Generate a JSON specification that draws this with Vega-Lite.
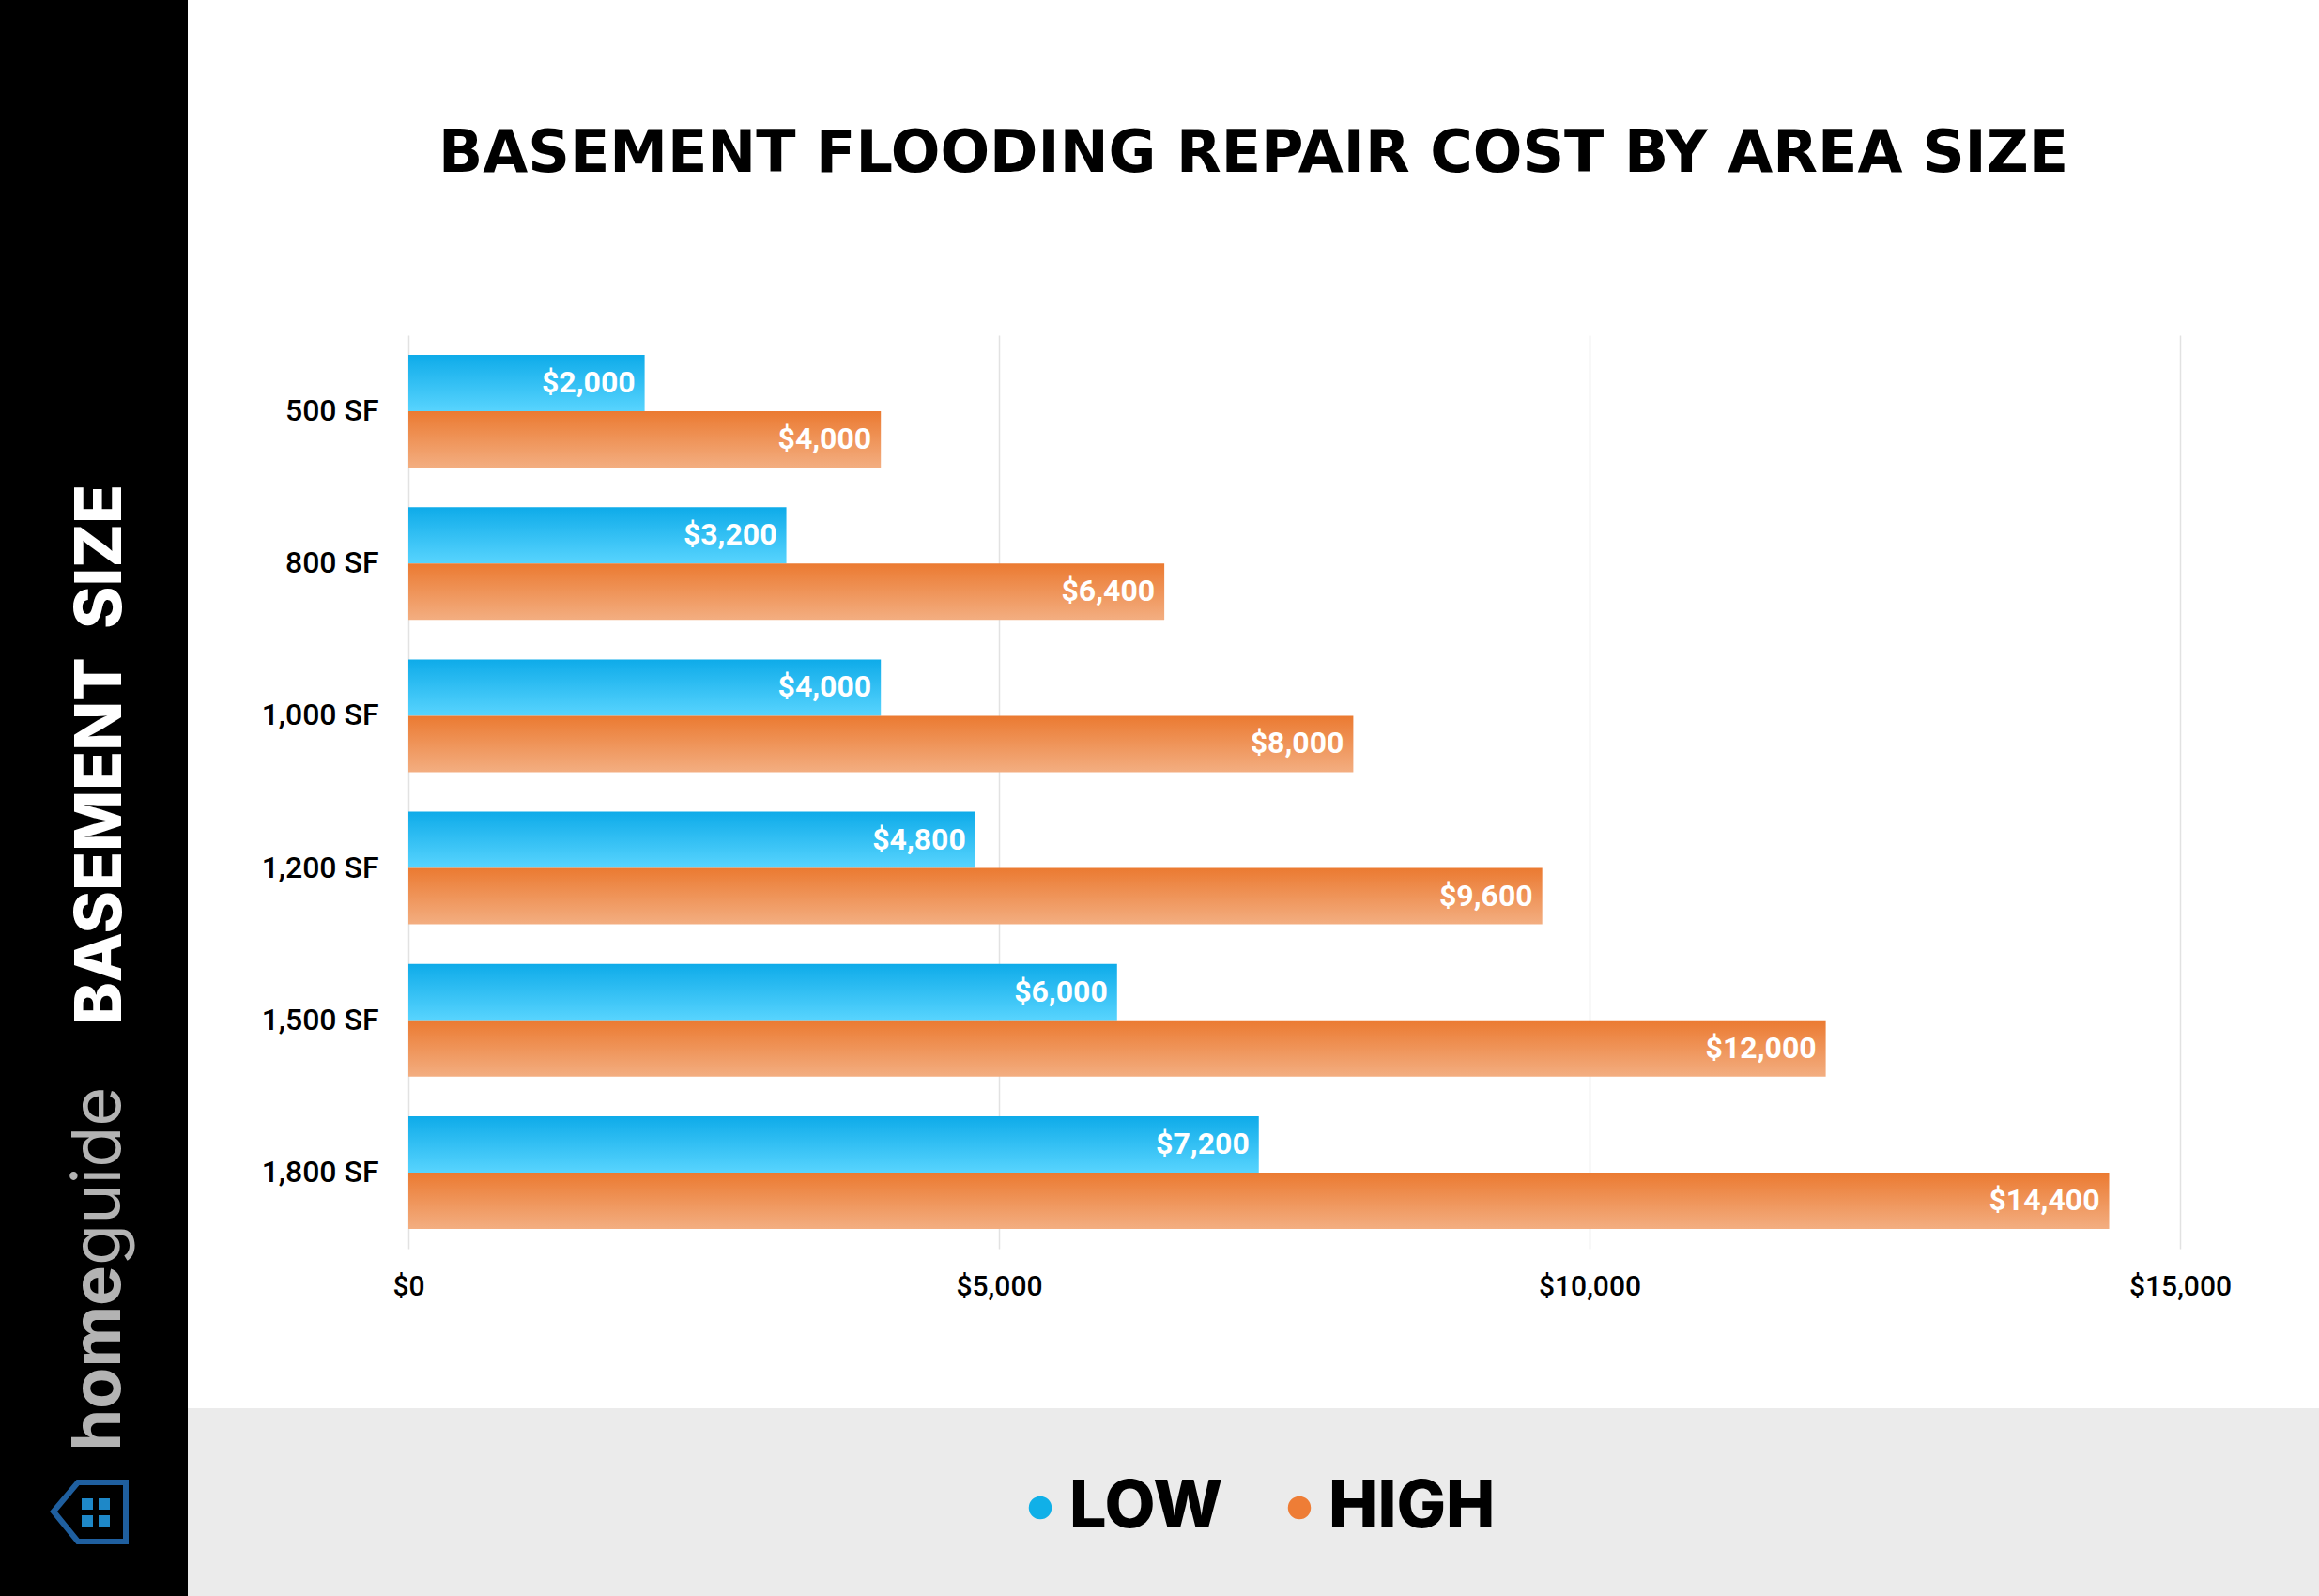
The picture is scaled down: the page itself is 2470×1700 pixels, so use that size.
{
  "$schema": "https://vega.github.io/schema/vega-lite/v6.json",
  "background": "white",
  "padding": 0,
  "spacing": 0,
  "bounds": "flush",
  "datasets": {
    "costs": [
      {"size": "500 SF", "series": "LOW", "cost": 2000},
      {"size": "500 SF", "series": "HIGH", "cost": 4000},
      {"size": "800 SF", "series": "LOW", "cost": 3200},
      {"size": "800 SF", "series": "HIGH", "cost": 6400},
      {"size": "1,000 SF", "series": "LOW", "cost": 4000},
      {"size": "1,000 SF", "series": "HIGH", "cost": 8000},
      {"size": "1,200 SF", "series": "LOW", "cost": 4800},
      {"size": "1,200 SF", "series": "HIGH", "cost": 9600},
      {"size": "1,500 SF", "series": "LOW", "cost": 6000},
      {"size": "1,500 SF", "series": "HIGH", "cost": 12000},
      {"size": "1,800 SF", "series": "LOW", "cost": 7200},
      {"size": "1,800 SF", "series": "HIGH", "cost": 14400}
    ]
  },
  "hconcat": [
    {
      "width": 200,
      "height": 1700,
      "view": {"fill": "#000000", "stroke": null},
      "data": {"values": [{}]},
      "layer": [
        {
          "mark": {"type": "text", "angle": 270, "align": "center", "baseline": "alphabetic", "dx": 46, "dy": 29, "font": "Inter", "fontSize": 69, "fontWeight": 800, "fill": "#ffffff"},
          "encoding": {"text": {"value": "BASEMENT\u00a0 SIZE"}}
        },
        {
          "mark": {"type": "text", "angle": 270, "align": "right", "baseline": "alphabetic", "dx": -498, "dy": 28, "font": "Inter", "fontSize": 72, "fontWeight": 700, "fill": "#b3b3b3"},
          "encoding": {"text": {"value": "home"}}
        },
        {
          "mark": {"type": "text", "angle": 270, "align": "left", "baseline": "alphabetic", "dx": -498, "dy": 28, "font": "Inter", "fontSize": 72, "fontWeight": 400, "fill": "#b3b3b3"},
          "encoding": {"text": {"value": "guide"}}
        },
        {
          "mark": {"type": "point", "shape": "M-1.075,19L-0.425,18.225L0.85,18.225L0.85,19.8L-0.425,19.8Z", "size": 6400, "filled": false, "stroke": "#1f5f9f", "strokeWidth": 6, "opacity": 1},
          "encoding": {}
        },
        {
          "mark": {"type": "point", "shape": "M-0.325,18.65H-0.025V18.95H-0.325Z M0.125,18.65H0.425V18.95H0.125Z M-0.325,19.1H-0.025V19.4H-0.325Z M0.125,19.1H0.425V19.4H0.125Z", "size": 6400, "filled": true, "fill": "#1e88c8", "strokeWidth": 0, "opacity": 1},
          "encoding": {}
        }
      ]
    },
    {
      "spacing": 0,
      "bounds": "flush",
      "vconcat": [
        {
          "width": 2270,
          "height": 357,
          "view": {"stroke": null},
          "data": {"values": [{}]},
          "mark": {"type": "text", "align": "center", "baseline": "middle", "dy": -15, "font": "DejaVu Sans", "fontSize": 62, "fontWeight": "bold", "fill": "#000000"},
          "encoding": {"text": {"value": "BASEMENT FLOODING REPAIR COST BY AREA SIZE"}}
        },
        {
          "spacing": 170,
          "bounds": "flush",
          "vconcat": [
            {
              "width": 2270,
              "height": 973,
              "view": {"stroke": null},
              "data": {"name": "costs"},
              "encoding": {
                "y": {
                  "field": "size",
                  "type": "nominal",
                  "sort": ["500 SF", "800 SF", "1,000 SF", "1,200 SF", "1,500 SF", "1,800 SF"],
                  "scale": {"paddingInner": 0.26, "paddingOuter": 0.13},
                  "axis": {"title": null, "offset": -235, "domain": false, "ticks": false, "grid": false, "labelPadding": 32, "labelFontSize": 32, "labelFont": "Roboto", "labelFontWeight": 500, "labelColor": "#000000"}
                },
                "yOffset": {
                  "field": "series",
                  "type": "nominal",
                  "sort": ["LOW", "HIGH"],
                  "scale": {"paddingInner": 0, "paddingOuter": 0}
                },
                "x": {
                  "field": "cost",
                  "type": "quantitative",
                  "scale": {"domain": [0, 15000], "range": [235, 2122], "nice": false},
                  "axis": {"title": null, "values": [0, 5000, 10000, 15000], "format": "$,.0f", "domain": false, "ticks": false, "grid": true, "gridColor": "#e2e2e2", "gridWidth": 1.5, "labelFlush": false, "labelPadding": 25, "labelFontSize": 30, "labelFont": "Roboto", "labelFontWeight": 500, "labelColor": "#000000"}
                }
              },
              "layer": [
                {
                  "mark": {"type": "bar"},
                  "encoding": {
                    "fill": {
                      "condition": {
                        "test": "datum.series === 'LOW'",
                        "value": {"gradient": "linear", "x1": 0, "y1": 0, "x2": 0, "y2": 1, "stops": [{"offset": 0, "color": "#0eabe9"}, {"offset": 1, "color": "#58d4fe"}]}
                      },
                      "value": {"gradient": "linear", "x1": 0, "y1": 0, "x2": 0, "y2": 1, "stops": [{"offset": 0, "color": "#eb7a31"}, {"offset": 1, "color": "#f3ae81"}]}
                    }
                  }
                },
                {
                  "mark": {"type": "text", "align": "right", "baseline": "middle", "dx": -10, "font": "Roboto", "fontSize": 32, "fontWeight": "bold", "fill": "#ffffff"},
                  "encoding": {"text": {"field": "cost", "type": "quantitative", "format": "$,.0f"}}
                },
                {
                  "mark": {"type": "point", "filled": true, "opacity": 0},
                  "encoding": {
                    "color": {
                      "field": "series",
                      "type": "nominal",
                      "sort": ["LOW", "HIGH"],
                      "scale": {"domain": ["LOW", "HIGH"], "range": ["#10b0e8", "#ee7d36"]},
                      "legend": {"title": null, "orient": "none", "legendX": 1073, "legendY": 1571, "direction": "horizontal", "symbolType": "circle", "symbolSize": 600, "symbolOpacity": 1, "symbolStrokeWidth": 0, "labelFontSize": 70, "labelFont": "Inter", "labelFontWeight": 800, "labelColor": "#000000", "labelLimit": 500, "labelOffset": -4, "columnPadding": 46, "padding": 0}
                    }
                  }
                }
              ]
            },
            {
              "width": 2270,
              "height": 200,
              "view": {"fill": "#ebebeb", "stroke": null},
              "data": {"values": [{}]},
              "mark": {"type": "text"},
              "encoding": {"text": {"value": ""}}
            }
          ]
        }
      ]
    }
  ],
  "config": {
    "view": {"stroke": null}
  }
}
